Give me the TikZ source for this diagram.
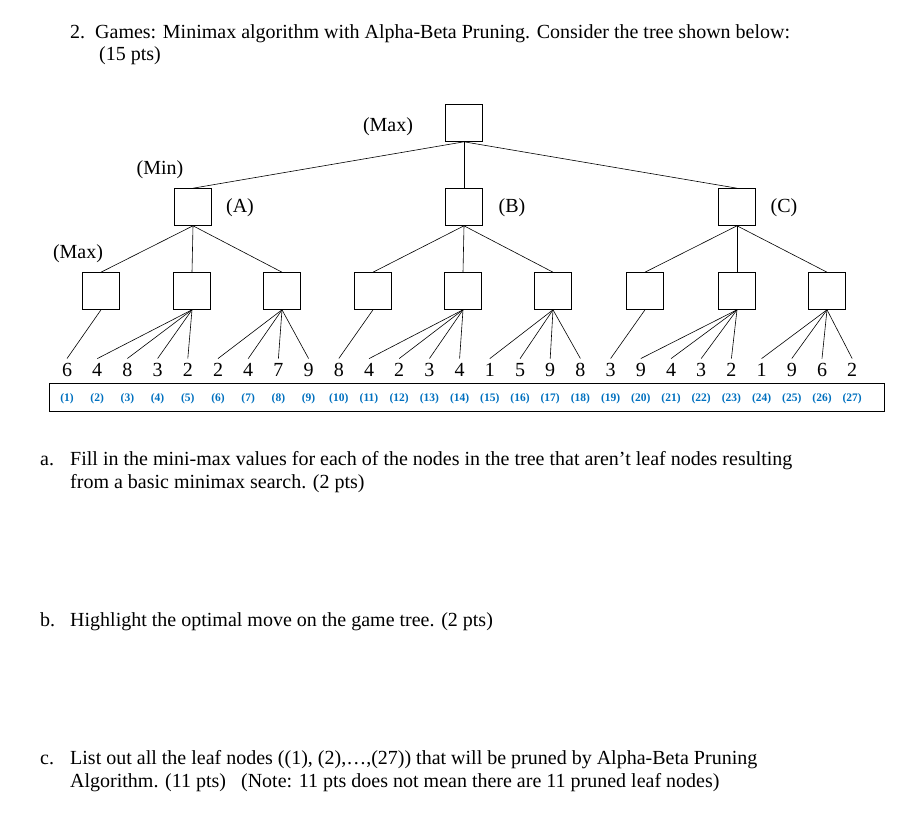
\documentclass[tikz,border=0pt]{standalone}
\usepackage{fontspec}
\setmainfont{Liberation Serif}
\usetikzlibrary{positioning}
\definecolor{cidx}{rgb}{0.0, 0.44, 0.75}

\begin{document}
\begin{tikzpicture}[x=1pt, y=-1pt, font=\fontsize{20}{23}\selectfont,
  sq/.style={draw, semithick, minimum size=37pt, inner sep=0pt},
  leaf/.style={inner sep=4pt, anchor=base},
  idx/.style={text=cidx, font=\fontsize{11.5}{13}\selectfont\bfseries, anchor=base},
  txt/.style={anchor=base west, inner sep=0pt}]
  \useasboundingbox (0, 0) rectangle (911, 817);

  % question text
  \node [txt] at (70, 38) {2.\ \ Games: Minimax algorithm with Alpha-Beta Pruning. Consider the tree shown below:};
  \node [txt] at (99, 60) {(15 pts)};

  % tree boxes
  \node [sq] (r) at (464, 123) {};
  \node [sq] (a) at (193, 207) {};
  \node [sq] (b) at (464, 207) {};
  \node [sq] (c) at (737, 207) {};
  \foreach \i/\x in {1/101, 2/192, 3/282, 4/373, 5/463, 6/553, 7/645, 8/737, 9/827}
    \node [sq] (m\i) at (\x, 291) {};

  \node at (388, 127) {(Max)};
  \node at (160, 170) {(Min)};
  \node at (240, 208) {(A)};
  \node at (512, 208) {(B)};
  \node at (784, 208) {(C)};
  \node at (78, 254) {(Max)};

  \foreach \p in {a, b, c}
    \draw [semithick] (r.south) -- (\p.north);
  \foreach \i in {1, 2, 3}
    \draw [semithick] (a.south) -- (m\i.north);
  \foreach \i in {4, 5, 6}
    \draw [semithick] (b.south) -- (m\i.north);
  \foreach \i in {7, 8, 9}
    \draw [semithick] (c.south) -- (m\i.north);

  % leaves
  \foreach \v [count=\k] in {6,4,8,3,2,2,4,7,9,8,4,2,3,4,1,5,9,8,3,9,4,3,2,1,9,6,2} {
    \node [leaf] (l\k) at ({67 + 30.2*(\k-1)}, 376) {\v};
    \node [idx] (n\k) at ({67 + 30.2*(\k-1)}, 401) {(\k)};
  }
  \foreach \m/\from/\to in {1/1/1, 2/2/5, 3/6/9, 4/10/10, 5/11/14, 6/15/18, 7/19/19, 8/20/23, 9/24/27}
    \foreach \k in {\from, ..., \to}
      \draw [semithick] (m\m.south) -- (l\k.north);

  \draw [semithick] (49, 383) rectangle (884, 411);

  % parts
  \node [txt] at (40, 465) {a.};
  \node [txt] at (70, 465) {Fill in the mini-max values for each of the nodes in the tree that aren’t leaf nodes resulting};
  \node [txt] at (70, 488) {from a basic minimax search. (2 pts)};
  \node [txt] at (40, 626) {b.};
  \node [txt] at (70, 626) {Highlight the optimal move on the game tree. (2 pts)};
  \node [txt] at (40, 764) {c.};
  \node [txt] at (70, 764) {List out all the leaf nodes ((1), (2),…,(27)) that will be pruned by Alpha-Beta Pruning};
  \node [txt] at (70, 787) {Algorithm. (11 pts)\ \ \ (Note: 11 pts does not mean there are 11 pruned leaf nodes)};
\end{tikzpicture}
\end{document}
